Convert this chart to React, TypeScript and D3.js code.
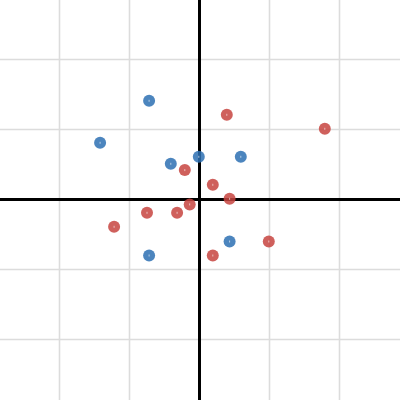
import React from "react";
import * as d3 from "d3";

const blueX = [-3.6, -7.1, -2.05, -0.05, 2.95, 2.15, -3.6];
const blueY = [7.05, 4.05, 2.55, 3.05, 3.05, -3.0, -4.0];
const redX = [1.95, 8.95, -1.05, 0.95, 2.15, -0.7, -1.6, -3.75, -6.1, 4.95, 0.95];
const redY = [6.05, 5.05, 2.1, 1.05, 0.05, -0.35, -0.95, -0.95, -1.95, -3.0, -4.0];
const gridTicks = [-10, -5, 0, 5, 10];

const W = 400;
const H = 400;

export default function App() {
  const x = d3.scaleLinear().domain([-199.5 / 14, 200.5 / 14]).range([0, W]);
  const y = d3.scaleLinear().domain([-200.5 / 14, 199.5 / 14]).range([H, 0]);
  const blue = blueX.map((v, i) => [v, blueY[i]]);
  const red = redX.map((v, i) => [v, redY[i]]);
  const dot = (p: number[], i: number, color: string) => (
    <g key={color + i} transform={`translate(${x(p[0])},${y(p[1])})`}>
      <circle r={6} fill={color} fillOpacity={0.85} />
      <line x1={0} x2={0} y1={-1} y2={1} stroke="#fff" strokeOpacity={0.6} strokeWidth={1} />
    </g>
  );
  return (
    <svg width={W} height={H} style={{ position: "absolute", left: 0, top: 0, background: "#fff" }}>
      {gridTicks.filter((t) => t !== 0).map((t) => (
        <g key={"g" + t}>
          <line x1={x(t)} x2={x(t)} y1={0} y2={H} stroke="#dcdcdc" strokeWidth={1.6} />
          <line x1={0} x2={W} y1={y(t)} y2={y(t)} stroke="#dcdcdc" strokeWidth={1.6} />
        </g>
      ))}
      <line x1={x(0)} x2={x(0)} y1={0} y2={H} stroke="#000" strokeWidth={3} />
      <line x1={0} x2={W} y1={y(0)} y2={y(0)} stroke="#000" strokeWidth={3} />
      {blue.map((p, i) => dot(p, i, "#2d70b3"))}
      {red.map((p, i) => dot(p, i, "#c74440"))}
    </svg>
  );
}
